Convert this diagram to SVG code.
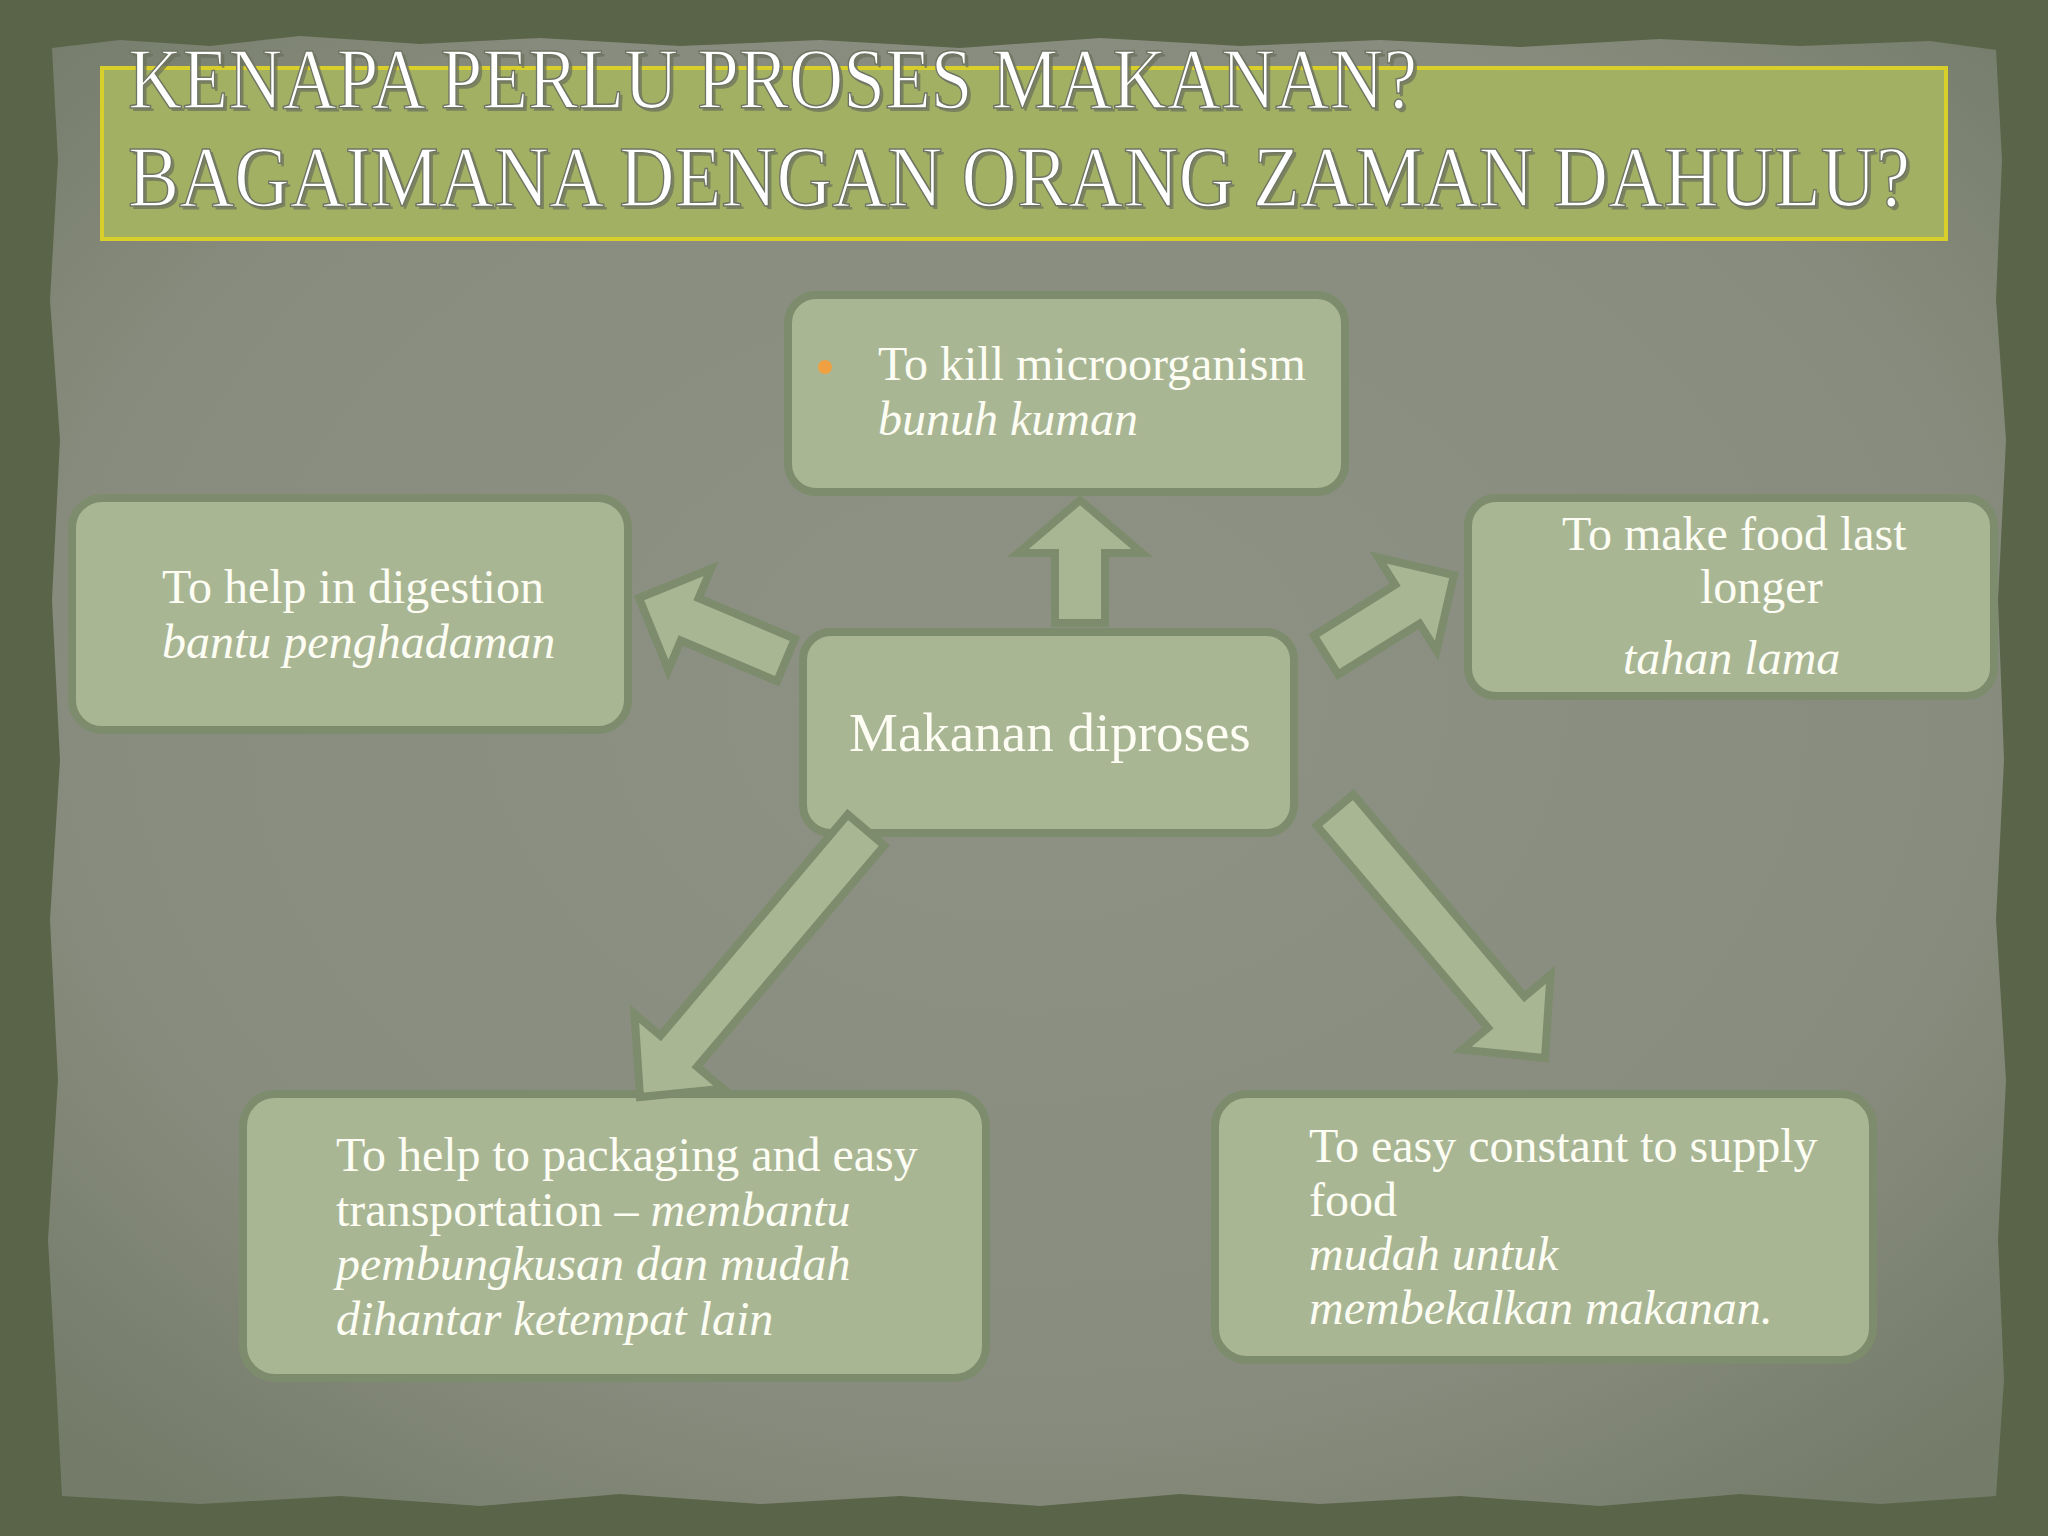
<svg xmlns="http://www.w3.org/2000/svg" width="2048" height="1536" viewBox="0 0 2048 1536">
<style>
.box{fill:#a9b694;stroke:#7d8c6c;stroke-width:8}
.arr{fill:#a9b694;stroke:#7d8c6c;stroke-width:8;stroke-linejoin:miter}
.t{font-family:"Liberation Serif","DejaVu Serif",serif;font-size:48px;fill:#fdfdf4}
.i{font-style:italic}
.title{font-family:"Liberation Serif","DejaVu Serif",serif;font-size:86px;fill:#ffffff;stroke:#6f7563;stroke-width:1.5}
.tsh{font-family:"Liberation Serif","DejaVu Serif",serif;font-size:86px;fill:#6a705c;opacity:0.7}
</style>
<defs>
<radialGradient id="pg" cx="0.5" cy="0.45" r="0.7">
<stop offset="0" stop-color="#8e9285"/>
<stop offset="0.7" stop-color="#888c7e"/>
<stop offset="1" stop-color="#747b69"/>
</radialGradient>
<filter id="glow" x="-10%" y="-10%" width="120%" height="120%">
<feGaussianBlur stdDeviation="6"/>
</filter>
</defs>
<rect x="0" y="0" width="2048" height="1536" fill="#5a6449"/>
<path d="M52,48 L120,40 L210,46 L300,36 L420,44 L540,38 L680,46 L820,40 L960,48 L1100,38 L1240,46 L1380,40 L1520,47 L1660,39 L1800,46 L1930,41 L1996,50 L2002,160 L1996,300 L2006,440 L1998,600 L2004,760 L1996,920 L2006,1080 L1998,1240 L2004,1380 L1996,1496 L1880,1504 L1740,1494 L1600,1506 L1460,1496 L1320,1504 L1180,1494 L1040,1506 L900,1496 L760,1504 L620,1494 L480,1506 L340,1496 L200,1504 L62,1496 L56,1380 L48,1240 L58,1080 L50,920 L60,760 L52,600 L60,440 L50,300 L58,160 Z" fill="url(#pg)"/>
<g id="title">
<rect x="102" y="68" width="1844" height="171" fill="#a2b064" stroke="#d8cf2a" stroke-width="4"/>
<text class="tsh" x="131" y="111" textLength="1289" lengthAdjust="spacingAndGlyphs">KENAPA PERLU PROSES MAKANAN?</text>
<text class="tsh" x="131" y="209" textLength="1782" lengthAdjust="spacingAndGlyphs">BAGAIMANA DENGAN ORANG ZAMAN DAHULU?</text>
<text class="title" x="128" y="108" textLength="1289" lengthAdjust="spacingAndGlyphs">KENAPA PERLU PROSES MAKANAN?</text>
<text class="title" x="128" y="206" textLength="1782" lengthAdjust="spacingAndGlyphs">BAGAIMANA DENGAN ORANG ZAMAN DAHULU?</text>
</g>
<g id="node-top">
<rect class="box" x="788" y="295" width="557" height="197" rx="28"/>
<circle cx="825" cy="367" r="7" fill="#f0a040"/>
<text class="t" x="878" y="380">To kill microorganism</text>
<text class="t i" x="878" y="435">bunuh kuman</text>
</g>
<g id="node-left">
<rect class="box" x="72" y="498" width="556" height="232" rx="30"/>
<text class="t" x="162" y="603">To help in digestion</text>
<text class="t i" x="162" y="658">bantu penghadaman</text>
</g>
<g id="node-right">
<rect class="box" x="1468" y="498" width="526" height="198" rx="28"/>
<text class="t" x="1562" y="550">To make food last</text>
<text class="t" x="1700" y="603">longer</text>
<text class="t i" x="1623" y="674">tahan lama</text>
</g>
<g id="node-center">
<rect class="box" x="803" y="632" width="491" height="201" rx="28"/>
<text class="t" x="849" y="751" style="font-size:55px">Makanan diproses</text>
</g>
<g id="node-bottom-left">
<rect class="box" x="243" y="1094" width="743" height="284" rx="32"/>
<text class="t" x="336" y="1171">To help to packaging and easy</text>
<text class="t" x="336" y="1226">transportation – <tspan class="i">membantu</tspan></text>
<text class="t i" x="336" y="1280">pembungkusan dan mudah</text>
<text class="t i" x="336" y="1335">dihantar ketempat lain</text>
</g>
<g id="node-bottom-right">
<rect class="box" x="1215" y="1094" width="658" height="266" rx="32"/>
<text class="t" x="1309" y="1162">To easy constant to supply</text>
<text class="t" x="1309" y="1216">food</text>
<text class="t i" x="1309" y="1270">mudah untuk</text>
<text class="t i" x="1309" y="1324">membekalkan makanan.</text>
</g>
<g id="connectors">
<polygon class="arr" points="1055,623 1055,553 1018,553 1080,500 1142,553 1105,553 1105,623"/>
<polygon class="arr" points="794.9,638.8 698.6,598.2 711.1,568.7 639,598 668.3,670.1 680.8,640.6 777.1,681.2"/>
<polygon class="arr" points="1338.2,674.5 1419.6,623.7 1436.6,650.8 1454,575 1378.2,557.6 1395.2,584.7 1313.8,635.5"/>
<polygon class="arr" points="847.7,814.5 660.5,1035.7 634.5,1013.7 640,1097 723.1,1088.7 697.1,1066.7 884.3,845.5"/>
<polygon class="arr" points="1316.7,825.5 1487.9,1027.7 1461.9,1049.7 1545,1058 1550.5,974.7 1524.5,996.7 1353.3,794.5"/>
</g>
</svg>
